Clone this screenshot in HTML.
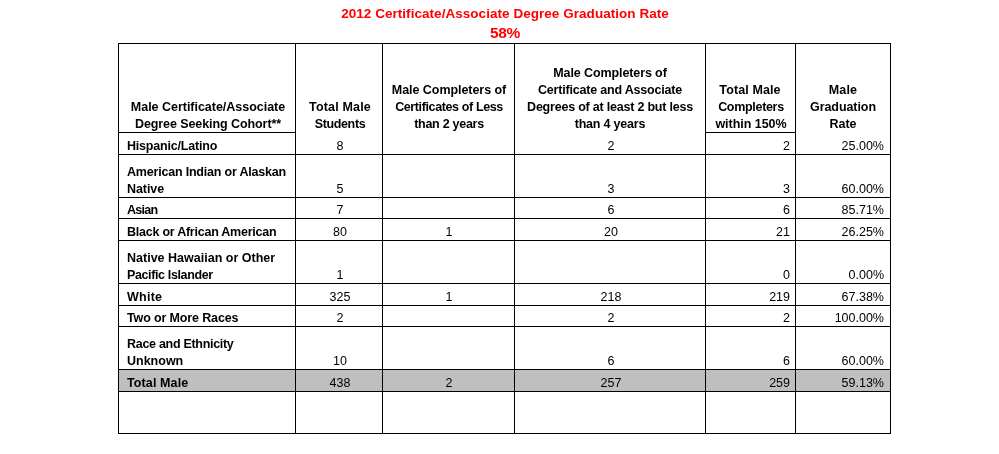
<!DOCTYPE html>
<html><head><meta charset="utf-8"><style>
html,body{margin:0;padding:0;background:#fff;}
body{width:999px;height:454px;position:relative;overflow:hidden;font-family:"Liberation Sans",sans-serif;color:#000;}
body>div{position:absolute;will-change:transform;}
</style></head><body>
<div style="left:119px;top:370px;width:771px;height:21px;background:#bfbfbf"></div>
<div style="left:118px;top:43px;width:773px;height:1px;background:#000"></div>
<div style="left:118px;top:154px;width:773px;height:1px;background:#000"></div>
<div style="left:118px;top:197px;width:773px;height:1px;background:#000"></div>
<div style="left:118px;top:218px;width:773px;height:1px;background:#000"></div>
<div style="left:118px;top:240px;width:773px;height:1px;background:#000"></div>
<div style="left:118px;top:283px;width:773px;height:1px;background:#000"></div>
<div style="left:118px;top:305px;width:773px;height:1px;background:#000"></div>
<div style="left:118px;top:326px;width:773px;height:1px;background:#000"></div>
<div style="left:118px;top:369px;width:773px;height:1px;background:#000"></div>
<div style="left:118px;top:391px;width:773px;height:1px;background:#000"></div>
<div style="left:118px;top:433px;width:773px;height:1px;background:#000"></div>
<div style="left:118px;top:132px;width:178px;height:1px;background:#000"></div>
<div style="left:705px;top:132px;width:91px;height:1px;background:#000"></div>
<div style="left:118px;top:43px;width:1px;height:391px;background:#000"></div>
<div style="left:295px;top:43px;width:1px;height:391px;background:#000"></div>
<div style="left:382px;top:43px;width:1px;height:391px;background:#000"></div>
<div style="left:514px;top:43px;width:1px;height:391px;background:#000"></div>
<div style="left:705px;top:43px;width:1px;height:391px;background:#000"></div>
<div style="left:795px;top:43px;width:1px;height:391px;background:#000"></div>
<div style="left:890px;top:43px;width:1px;height:391px;background:#000"></div>
<div style="top:5px;font-size:13.5px;line-height:17px;height:17px;white-space:nowrap;font-weight:bold;color:#ff0000;letter-spacing:0.042px;left:304.98px;width:400px;text-align:center;">2012 Certificate/Associate Degree Graduation Rate</div>
<div style="top:24px;font-size:15.5px;line-height:17px;height:17px;white-space:nowrap;font-weight:bold;color:#ff0000;letter-spacing:-0.400px;left:305.20px;width:400px;text-align:center;">58%</div>
<div style="top:99px;font-size:12.5px;line-height:17px;height:17px;white-space:nowrap;font-weight:bold;letter-spacing:-0.024px;left:8.06px;width:400px;text-align:center;">Male Certificate/Associate</div>
<div style="top:116px;font-size:12.5px;line-height:17px;height:17px;white-space:nowrap;font-weight:bold;letter-spacing:-0.082px;left:7.64px;width:400px;text-align:center;">Degree Seeking Cohort**</div>
<div style="top:99px;font-size:12.5px;line-height:17px;height:17px;white-space:nowrap;font-weight:bold;letter-spacing:0.156px;left:140.07px;width:400px;text-align:center;">Total Male</div>
<div style="top:116px;font-size:12.5px;line-height:17px;height:17px;white-space:nowrap;font-weight:bold;letter-spacing:-0.372px;left:140.34px;width:400px;text-align:center;">Students</div>
<div style="top:82px;font-size:12.5px;line-height:17px;height:17px;white-space:nowrap;font-weight:bold;letter-spacing:-0.058px;left:249.18px;width:400px;text-align:center;">Male Completers of</div>
<div style="top:99px;font-size:12.5px;line-height:17px;height:17px;white-space:nowrap;font-weight:bold;letter-spacing:-0.379px;left:249.34px;width:400px;text-align:center;">Certificates of Less</div>
<div style="top:116px;font-size:12.5px;line-height:17px;height:17px;white-space:nowrap;font-weight:bold;letter-spacing:-0.272px;left:249.29px;width:400px;text-align:center;">than 2 years</div>
<div style="top:65px;font-size:12.5px;line-height:17px;height:17px;white-space:nowrap;font-weight:bold;letter-spacing:-0.106px;left:410.10px;width:400px;text-align:center;">Male Completers of</div>
<div style="top:82px;font-size:12.5px;line-height:17px;height:17px;white-space:nowrap;font-weight:bold;letter-spacing:-0.192px;left:409.90px;width:400px;text-align:center;">Certificate and Associate</div>
<div style="top:99px;font-size:12.5px;line-height:17px;height:17px;white-space:nowrap;font-weight:bold;letter-spacing:-0.214px;left:410.21px;width:400px;text-align:center;">Degrees of at least 2 but less</div>
<div style="top:116px;font-size:12.5px;line-height:17px;height:17px;white-space:nowrap;font-weight:bold;letter-spacing:-0.200px;left:410.20px;width:400px;text-align:center;">than 4 years</div>
<div style="top:82px;font-size:12.5px;line-height:17px;height:17px;white-space:nowrap;font-weight:bold;letter-spacing:0.111px;left:550.09px;width:400px;text-align:center;">Total Male</div>
<div style="top:99px;font-size:12.5px;line-height:17px;height:17px;white-space:nowrap;font-weight:bold;letter-spacing:-0.311px;left:550.81px;width:400px;text-align:center;">Completers</div>
<div style="top:116px;font-size:12.5px;line-height:17px;height:17px;white-space:nowrap;font-weight:bold;letter-spacing:-0.040px;left:550.87px;width:400px;text-align:center;">within 150%</div>
<div style="top:82px;font-size:12.5px;line-height:17px;height:17px;white-space:nowrap;font-weight:bold;letter-spacing:0.134px;left:642.73px;width:400px;text-align:center;">Male</div>
<div style="top:99px;font-size:12.5px;line-height:17px;height:17px;white-space:nowrap;font-weight:bold;letter-spacing:-0.067px;left:642.83px;width:400px;text-align:center;">Graduation</div>
<div style="top:116px;font-size:12.5px;line-height:17px;height:17px;white-space:nowrap;font-weight:bold;letter-spacing:-0.066px;left:642.98px;width:400px;text-align:center;">Rate</div>
<div style="top:138px;font-size:12.5px;line-height:17px;height:17px;white-space:nowrap;font-weight:bold;letter-spacing:-0.200px;left:127px;">Hispanic/Latino</div>
<div style="top:138px;font-size:12.5px;line-height:17px;height:17px;white-space:nowrap;left:139.50px;width:400px;text-align:center;">8</div>
<div style="top:138px;font-size:12.5px;line-height:17px;height:17px;white-space:nowrap;left:411.00px;width:400px;text-align:center;">2</div>
<div style="top:138px;font-size:12.5px;line-height:17px;height:17px;white-space:nowrap;left:389.50px;width:400px;text-align:right;">2</div>
<div style="top:138px;font-size:12.5px;line-height:17px;height:17px;white-space:nowrap;left:483.50px;width:400px;text-align:right;">25.00%</div>
<div style="top:164px;font-size:12.5px;line-height:17px;height:17px;white-space:nowrap;font-weight:bold;letter-spacing:-0.200px;left:127px;">American Indian or Alaskan</div>
<div style="top:181px;font-size:12.5px;line-height:17px;height:17px;white-space:nowrap;font-weight:bold;letter-spacing:-0.080px;left:127px;">Native</div>
<div style="top:181px;font-size:12.5px;line-height:17px;height:17px;white-space:nowrap;left:139.50px;width:400px;text-align:center;">5</div>
<div style="top:181px;font-size:12.5px;line-height:17px;height:17px;white-space:nowrap;left:411.00px;width:400px;text-align:center;">3</div>
<div style="top:181px;font-size:12.5px;line-height:17px;height:17px;white-space:nowrap;left:389.50px;width:400px;text-align:right;">3</div>
<div style="top:181px;font-size:12.5px;line-height:17px;height:17px;white-space:nowrap;left:483.50px;width:400px;text-align:right;">60.00%</div>
<div style="top:202px;font-size:12.5px;line-height:17px;height:17px;white-space:nowrap;font-weight:bold;letter-spacing:-0.700px;left:127px;">Asian</div>
<div style="top:202px;font-size:12.5px;line-height:17px;height:17px;white-space:nowrap;left:139.50px;width:400px;text-align:center;">7</div>
<div style="top:202px;font-size:12.5px;line-height:17px;height:17px;white-space:nowrap;left:411.00px;width:400px;text-align:center;">6</div>
<div style="top:202px;font-size:12.5px;line-height:17px;height:17px;white-space:nowrap;left:389.50px;width:400px;text-align:right;">6</div>
<div style="top:202px;font-size:12.5px;line-height:17px;height:17px;white-space:nowrap;left:483.50px;width:400px;text-align:right;">85.71%</div>
<div style="top:224px;font-size:12.5px;line-height:17px;height:17px;white-space:nowrap;font-weight:bold;letter-spacing:-0.242px;left:127px;">Black or African American</div>
<div style="top:224px;font-size:12.5px;line-height:17px;height:17px;white-space:nowrap;left:139.50px;width:400px;text-align:center;">80</div>
<div style="top:224px;font-size:12.5px;line-height:17px;height:17px;white-space:nowrap;left:249.00px;width:400px;text-align:center;">1</div>
<div style="top:224px;font-size:12.5px;line-height:17px;height:17px;white-space:nowrap;left:411.00px;width:400px;text-align:center;">20</div>
<div style="top:224px;font-size:12.5px;line-height:17px;height:17px;white-space:nowrap;left:389.50px;width:400px;text-align:right;">21</div>
<div style="top:224px;font-size:12.5px;line-height:17px;height:17px;white-space:nowrap;left:483.50px;width:400px;text-align:right;">26.25%</div>
<div style="top:250px;font-size:12.5px;line-height:17px;height:17px;white-space:nowrap;font-weight:bold;letter-spacing:0.008px;left:127px;">Native Hawaiian or Other</div>
<div style="top:267px;font-size:12.5px;line-height:17px;height:17px;white-space:nowrap;font-weight:bold;letter-spacing:-0.373px;left:127px;">Pacific Islander</div>
<div style="top:267px;font-size:12.5px;line-height:17px;height:17px;white-space:nowrap;left:139.50px;width:400px;text-align:center;">1</div>
<div style="top:267px;font-size:12.5px;line-height:17px;height:17px;white-space:nowrap;left:389.50px;width:400px;text-align:right;">0</div>
<div style="top:267px;font-size:12.5px;line-height:17px;height:17px;white-space:nowrap;left:483.50px;width:400px;text-align:right;">0.00%</div>
<div style="top:289px;font-size:12.5px;line-height:17px;height:17px;white-space:nowrap;font-weight:bold;letter-spacing:0.250px;left:127px;">White</div>
<div style="top:289px;font-size:12.5px;line-height:17px;height:17px;white-space:nowrap;left:139.50px;width:400px;text-align:center;">325</div>
<div style="top:289px;font-size:12.5px;line-height:17px;height:17px;white-space:nowrap;left:249.00px;width:400px;text-align:center;">1</div>
<div style="top:289px;font-size:12.5px;line-height:17px;height:17px;white-space:nowrap;left:411.00px;width:400px;text-align:center;">218</div>
<div style="top:289px;font-size:12.5px;line-height:17px;height:17px;white-space:nowrap;left:389.50px;width:400px;text-align:right;">219</div>
<div style="top:289px;font-size:12.5px;line-height:17px;height:17px;white-space:nowrap;left:483.50px;width:400px;text-align:right;">67.38%</div>
<div style="top:310px;font-size:12.5px;line-height:17px;height:17px;white-space:nowrap;font-weight:bold;letter-spacing:-0.137px;left:127px;">Two or More Races</div>
<div style="top:310px;font-size:12.5px;line-height:17px;height:17px;white-space:nowrap;left:139.50px;width:400px;text-align:center;">2</div>
<div style="top:310px;font-size:12.5px;line-height:17px;height:17px;white-space:nowrap;left:411.00px;width:400px;text-align:center;">2</div>
<div style="top:310px;font-size:12.5px;line-height:17px;height:17px;white-space:nowrap;left:389.50px;width:400px;text-align:right;">2</div>
<div style="top:310px;font-size:12.5px;line-height:17px;height:17px;white-space:nowrap;left:483.50px;width:400px;text-align:right;">100.00%</div>
<div style="top:336px;font-size:12.5px;line-height:17px;height:17px;white-space:nowrap;font-weight:bold;letter-spacing:-0.295px;left:127px;">Race and Ethnicity</div>
<div style="top:353px;font-size:12.5px;line-height:17px;height:17px;white-space:nowrap;font-weight:bold;left:127px;">Unknown</div>
<div style="top:353px;font-size:12.5px;line-height:17px;height:17px;white-space:nowrap;left:139.50px;width:400px;text-align:center;">10</div>
<div style="top:353px;font-size:12.5px;line-height:17px;height:17px;white-space:nowrap;left:411.00px;width:400px;text-align:center;">6</div>
<div style="top:353px;font-size:12.5px;line-height:17px;height:17px;white-space:nowrap;left:389.50px;width:400px;text-align:right;">6</div>
<div style="top:353px;font-size:12.5px;line-height:17px;height:17px;white-space:nowrap;left:483.50px;width:400px;text-align:right;">60.00%</div>
<div style="top:375px;font-size:12.5px;line-height:17px;height:17px;white-space:nowrap;font-weight:bold;letter-spacing:0.111px;left:127px;">Total Male</div>
<div style="top:375px;font-size:12.5px;line-height:17px;height:17px;white-space:nowrap;left:139.50px;width:400px;text-align:center;">438</div>
<div style="top:375px;font-size:12.5px;line-height:17px;height:17px;white-space:nowrap;left:249.00px;width:400px;text-align:center;">2</div>
<div style="top:375px;font-size:12.5px;line-height:17px;height:17px;white-space:nowrap;left:411.00px;width:400px;text-align:center;">257</div>
<div style="top:375px;font-size:12.5px;line-height:17px;height:17px;white-space:nowrap;left:389.50px;width:400px;text-align:right;">259</div>
<div style="top:375px;font-size:12.5px;line-height:17px;height:17px;white-space:nowrap;left:483.50px;width:400px;text-align:right;">59.13%</div>
</body></html>
